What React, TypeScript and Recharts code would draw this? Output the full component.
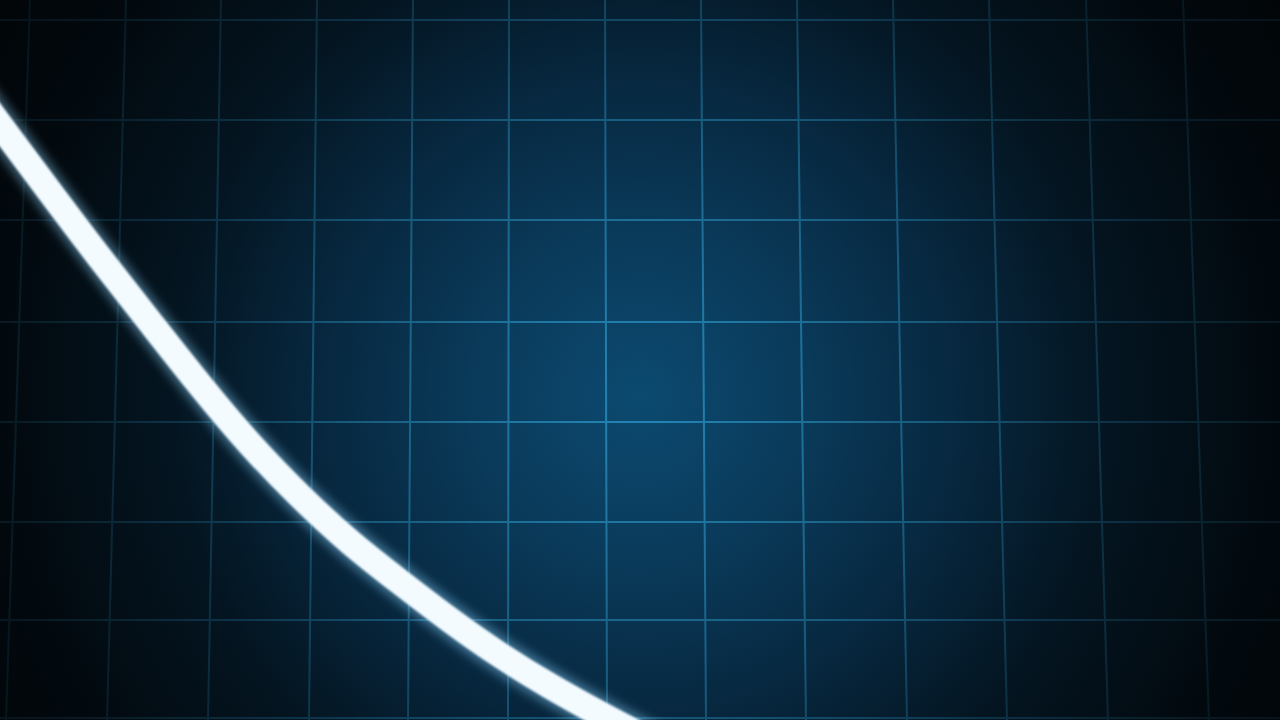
import React from "react"
import { LineChart, Line, XAxis, YAxis, ReferenceLine } from "recharts"

// curve samples, in grid units (1 unit = one cell)
const curveX = [-0.5, 0, 0.5, 1, 1.5, 2, 2.5, 3, 3.5, 4, 4.5, 5, 5.5, 6, 6.5, 7]
const curveY = [6.63, 5.95, 5.28, 4.62, 3.98, 3.35, 2.76, 2.24, 1.78, 1.38, 1.0, 0.65, 0.34, 0.06, -0.2, -0.44]

// vertical grid lines lean a little (perspective): x at the top and at the bottom
const gridTopX = [0.3, 1.26, 2.21, 3.17, 4.13, 5.09, 6.05, 7.01, 7.97, 8.93, 9.89, 10.86, 11.83]
const gridBottomX = [0.06, 1.07, 2.08, 3.09, 4.08, 5.08, 6.07, 7.06, 8.06, 9.07, 10.07, 11.08, 12.09]
const gridY = [7.0, 6.0, 5.0, 3.98, 2.98, 1.98, 1.0, 0.02]

const X_MAX = 12.8
const Y_MAX = 7.2

const data = curveX.map((x, i) => ({ x, y: curveY[i] }))

export default function App() {
  return (
    <div
      style={{
        position: "absolute",
        top: 0,
        left: 0,
        width: 1280,
        height: 720,
        overflow: "hidden",
        background:
          "radial-gradient(circle farthest-corner at 50% 55%, #0c4a70 0%, #0a3a5a 22%, #072840 42%, #041521 62%, #02090e 85%, #010508 100%)",
      }}
    >
      <svg width={0} height={0} style={{ position: "absolute" }}>
        <defs>
          <radialGradient id="gridGrad" gradientUnits="userSpaceOnUse" cx={640} cy={396} r={752}>
            <stop offset="0%" stopColor="#2386b8" />
            <stop offset="22%" stopColor="#1d7199" />
            <stop offset="42%" stopColor="#165677" />
            <stop offset="62%" stopColor="#0d3347" />
            <stop offset="85%" stopColor="#081a24" />
            <stop offset="100%" stopColor="#06121a" />
          </radialGradient>
          <filter id="glow" x="-20%" y="-20%" width="140%" height="140%">
            <feGaussianBlur stdDeviation="5" />
          </filter>
          <filter id="soft" x="-10%" y="-10%" width="120%" height="120%">
            <feGaussianBlur stdDeviation="0.8" />
          </filter>
        </defs>
      </svg>
      <LineChart width={1280} height={720} data={data} margin={{ top: 0, right: 0, bottom: 0, left: 0 }}>
        <XAxis type="number" dataKey="x" domain={[0, X_MAX]} hide allowDataOverflow />
        <YAxis type="number" domain={[0, Y_MAX]} hide allowDataOverflow />
        {gridY.map((v) => (
          <ReferenceLine key={`h-${v}`} y={v} stroke="url(#gridGrad)" strokeWidth={2} />
        ))}
        {gridTopX.map((top, i) => (
          <ReferenceLine
            key={`v-${i}`}
            segment={[
              { x: top, y: Y_MAX },
              { x: gridBottomX[i], y: 0 },
            ]}
            stroke="url(#gridGrad)"
            strokeWidth={2}
          />
        ))}
        <Line
          type="natural"
          dataKey="y"
          stroke="#8fd6ff"
          strokeOpacity={0.4}
          strokeWidth={36}
          dot={false}
          activeDot={false}
          filter="url(#glow)"
          isAnimationActive={false}
        />
        <Line
          type="natural"
          dataKey="y"
          stroke="#f3fbff"
          strokeWidth={26}
          dot={false}
          activeDot={false}
          filter="url(#soft)"
          isAnimationActive={false}
        />
      </LineChart>
    </div>
  )
}
